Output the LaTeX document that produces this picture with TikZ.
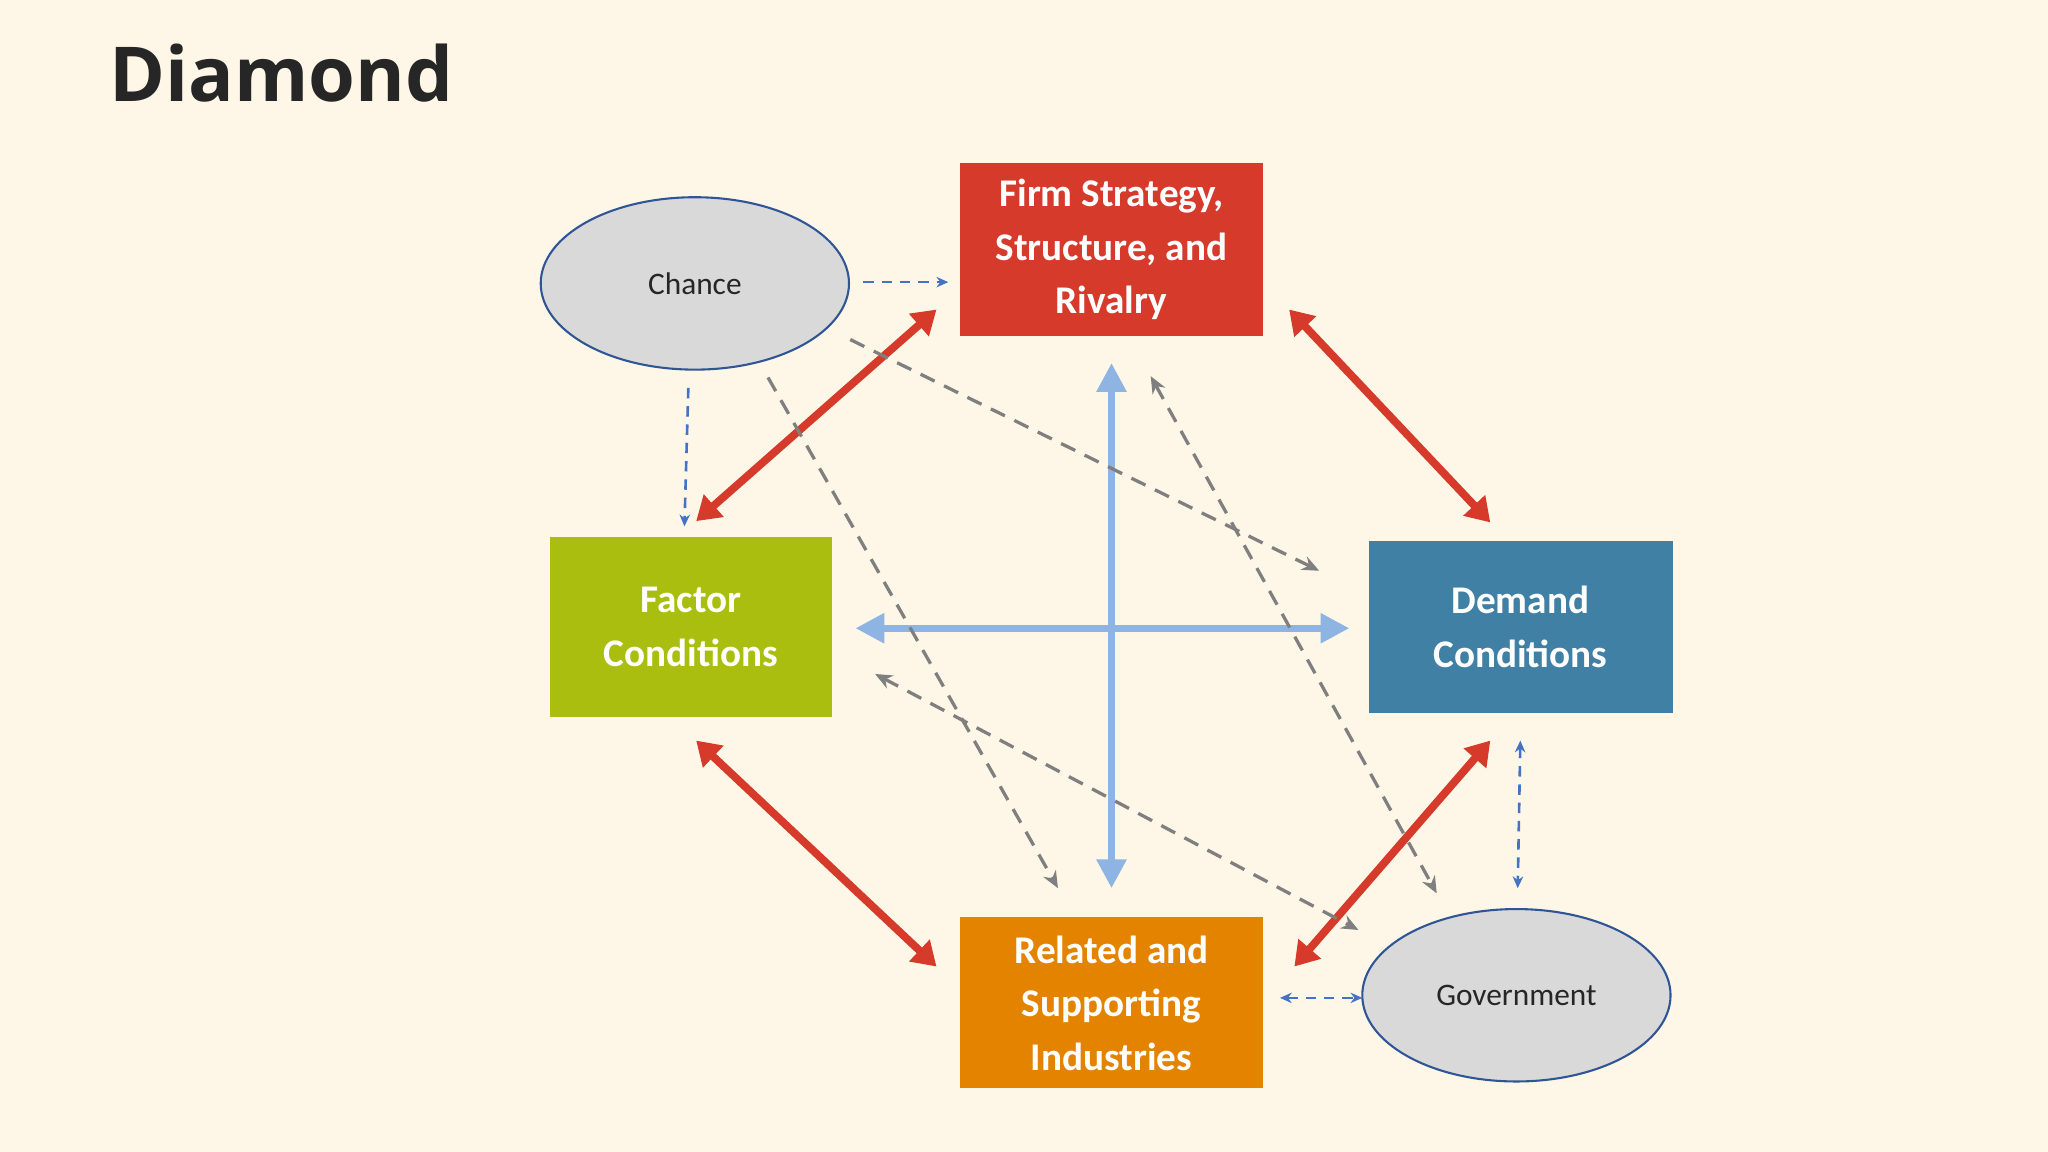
\documentclass[tikz,border=0pt]{standalone}
\usepackage{fontspec}
\setmainfont{Carlito}
\newfontfamily\titlefont{Open Sans}
\usetikzlibrary{arrows.meta}
\definecolor{bg}{HTML}{FEF7E7}
\definecolor{firm}{HTML}{D53A2A}
\definecolor{factor}{HTML}{A9BE0E}
\definecolor{demand}{HTML}{3F80A4}
\definecolor{related}{HTML}{E38300}
\definecolor{ell}{HTML}{D9D9D9}
\definecolor{ellb}{HTML}{2F5597}
\definecolor{redar}{HTML}{D53A2A}
\definecolor{lblue}{HTML}{8DB4E2}
\definecolor{dblue}{HTML}{4472C4}
\definecolor{gr}{HTML}{7F7F7F}
\begin{document}
\begin{tikzpicture}[x=1pt,y=-1pt,
 box/.style={draw=none,minimum width=#1,align=center,text=white,font=\fontsize{30}{41}\selectfont\bfseries,inner sep=0pt},
 ell/.style={ellipse,draw=ellb,line width=1.6pt,fill=ell,minimum width=236pt,minimum height=132pt,font=\fontsize{24}{28}\selectfont,text=black!85},
 red/.style={draw=redar,line width=6pt,{Triangle[length=18pt,width=22pt]}-{Triangle[length=18pt,width=22pt]},shorten <=0pt},
 lb/.style={draw=lblue,line width=5pt,{Triangle[length=22pt,width=22pt]}-{Triangle[length=22pt,width=22pt]}},
 db/.style={draw=dblue,line width=2pt,dash pattern=on 8pt off 6pt,-{Stealth[length=9pt,width=8pt]}},
 gd/.style={draw=gr,line width=2.5pt,dash pattern=on 12pt off 8pt,-{Stealth[length=13pt,width=11pt]}},
]
\usetikzlibrary{shapes.geometric}
\fill[bg] (0,0) rectangle (1568,882);
\node[anchor=base west,font=\titlefont\fontsize{58}{60}\selectfont\bfseries,text=black!85] (title) at (80,78) {Diamond};
\fill[firm] (735,125) rectangle (967,257);
\node[box=232pt] (firm) at (851,191) {Firm Strategy,\\Structure, and\\Rivalry};
\fill[factor] (421,411) rectangle (637,549);
\node[box=216pt] (factor) at (529,480) {Factor\\Conditions};
\fill[demand] (1048,414) rectangle (1281,546);
\node[box=233pt] (demand) at (1164,480) {Demand\\Conditions};
\fill[related] (735,702) rectangle (967,833);
\node[box=232pt] (rel) at (851,768) {Related and\\Supporting\\Industries};
\node[ell] (chance) at (532,217) {Chance};
\node[ell] (gov) at (1161,762) {Government};
\coordinate (a1) at (717,237); \coordinate (a2) at (533,399);
\coordinate (b1) at (987,237); \coordinate (b2) at (1141,400);
\coordinate (c1) at (533,567); \coordinate (c2) at (717,740);
\coordinate (d1) at (1141,567); \coordinate (d2) at (991,740);
\draw[red] (a1) -- (a2);
\draw[red] (b1) -- (b2);
\draw[red] (c1) -- (c2);
\draw[red] (d1) -- (d2);
\coordinate (v1) at (851,278); \coordinate (v2) at (851,680);
\coordinate (h1) at (655,481); \coordinate (h2) at (1033,481);
\draw[lb] (v1) -- (v2);
\draw[lb] (h1) -- (h2);
\coordinate (e1) at (661,216); \coordinate (e2) at (726,216);
\coordinate (f1) at (527,297); \coordinate (f2) at (524,403);
\coordinate (g1) at (1164,567); \coordinate (g2) at (1162,680);
\coordinate (k1) at (980,764); \coordinate (k2) at (1043,764);
\draw[db] (e1) -- (e2);
\draw[db] (f1) -- (f2);
\draw[db,{Stealth[length=9pt,width=8pt]}-{Stealth[length=9pt,width=8pt]}] (g1) -- (g2);
\draw[db,{Stealth[length=9pt,width=8pt]}-{Stealth[length=9pt,width=8pt]}] (k1) -- (k2);
\coordinate (m1) at (651,260); \coordinate (m2) at (1010,437);
\coordinate (n1) at (588,289); \coordinate (n2) at (810,680);
\coordinate (p1) at (881,288); \coordinate (p2) at (1100,684);
\coordinate (q1) at (670,516); \coordinate (q2) at (1040,712);
\draw[gd] (m1) -- (m2);
\draw[gd] (n1) -- (n2);
\draw[gd,{Stealth[length=13pt,width=11pt]}-{Stealth[length=13pt,width=11pt]}] (p1) -- (p2);
\draw[gd,{Stealth[length=13pt,width=11pt]}-{Stealth[length=13pt,width=11pt]}] (q1) -- (q2);
\end{tikzpicture}
\end{document}
